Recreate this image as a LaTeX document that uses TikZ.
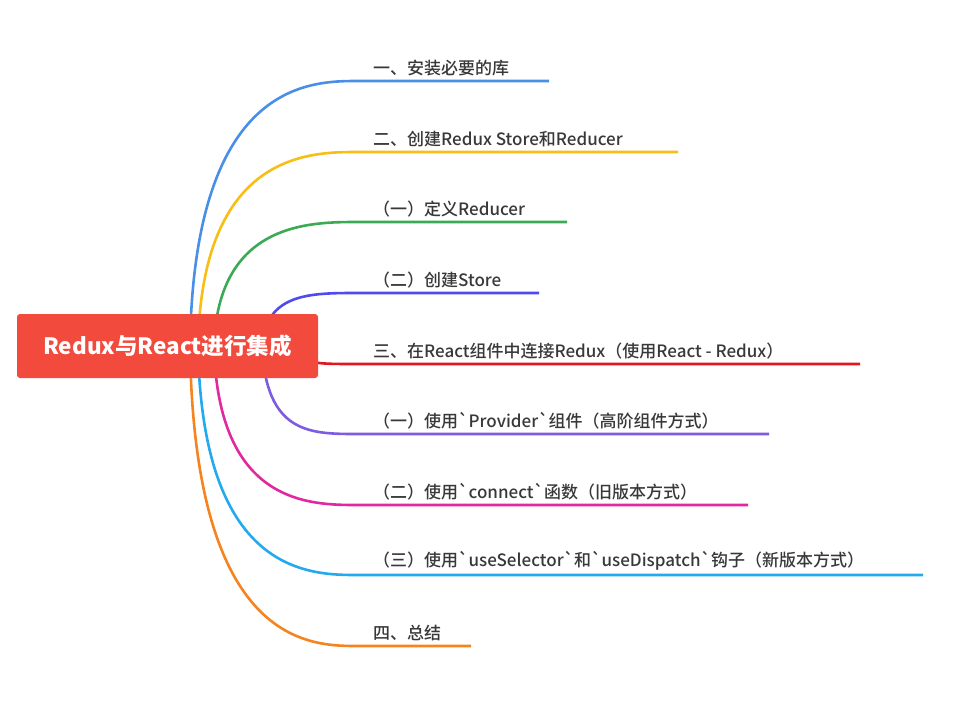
\documentclass[tikz,border=0pt]{standalone}
\usepackage{fontspec}
\setmainfont{Noto Sans CJK SC}
\newfontfamily\medf{Noto Sans CJK SC Medium}
\newcommand{\bq}{\char96\relax}
\begin{document}
\begin{tikzpicture}[x=1pt,y=-1pt,
  lbl/.style={anchor=south west,inner sep=2pt,text=black!78,font=\fontsize{17}{20}\selectfont\medf},
  br/.style={line width=2.6pt}]
\useasboundingbox (0,0) rectangle (959,705);
\definecolor{c1}{HTML}{4A8FE7}
\definecolor{c2}{HTML}{F7BE16}
\definecolor{c3}{HTML}{3BAA55}
\definecolor{c4}{HTML}{4F4BF0}
\definecolor{c5}{HTML}{E3161E}
\definecolor{c6}{HTML}{7E5BE0}
\definecolor{c7}{HTML}{E2289F}
\definecolor{c8}{HTML}{23A9EE}
\definecolor{c9}{HTML}{F5841F}
\definecolor{rootc}{HTML}{F24A3C}
\foreach \y/\xe/\c/\xs/\t/\n in {
 81/549/c1/190/{一、安装必要的库}/a,
 152/678/c2/198/{二、创建Redux Store和Reducer}/b,
 222/567/c3/214/{（一）定义Reducer}/c,
 293/539/c4/262/{（二）创建Store}/d,
 364/860/c5/300/{三、在React组件中连接Redux（使用React - Redux）}/e,
 434/769/c6/262/{（一）使用\bq Provider\bq 组件（高阶组件方式）}/f,
 505/748/c7/214/{（二）使用\bq connect\bq 函数（旧版本方式）}/g,
 575/923/c8/198/{（三）使用\bq useSelector\bq 和\bq useDispatch\bq 钩子（新版本方式）}/h,
 646/471/c9/190/{四、总结}/i}{
  \coordinate (s\n) at (\xs,346);
  \coordinate (u\n) at (358,\y);
  \coordinate (v\n) at (\xe,\y);
  \draw[\c,br] (s\n) .. controls (\xs+4,\y) and (310,\y) .. (u\n) -- (v\n);
  \node[lbl] (t\n) at (371,\y-3) {\t};
}
\node[fill=rootc,rounded corners=3pt,minimum width=301pt,minimum height=64pt,text=white,font=\fontsize{22.5}{26}\selectfont\bfseries] (root) at (167.5,346) {Redux与React进行集成};
\end{tikzpicture}
\end{document}
